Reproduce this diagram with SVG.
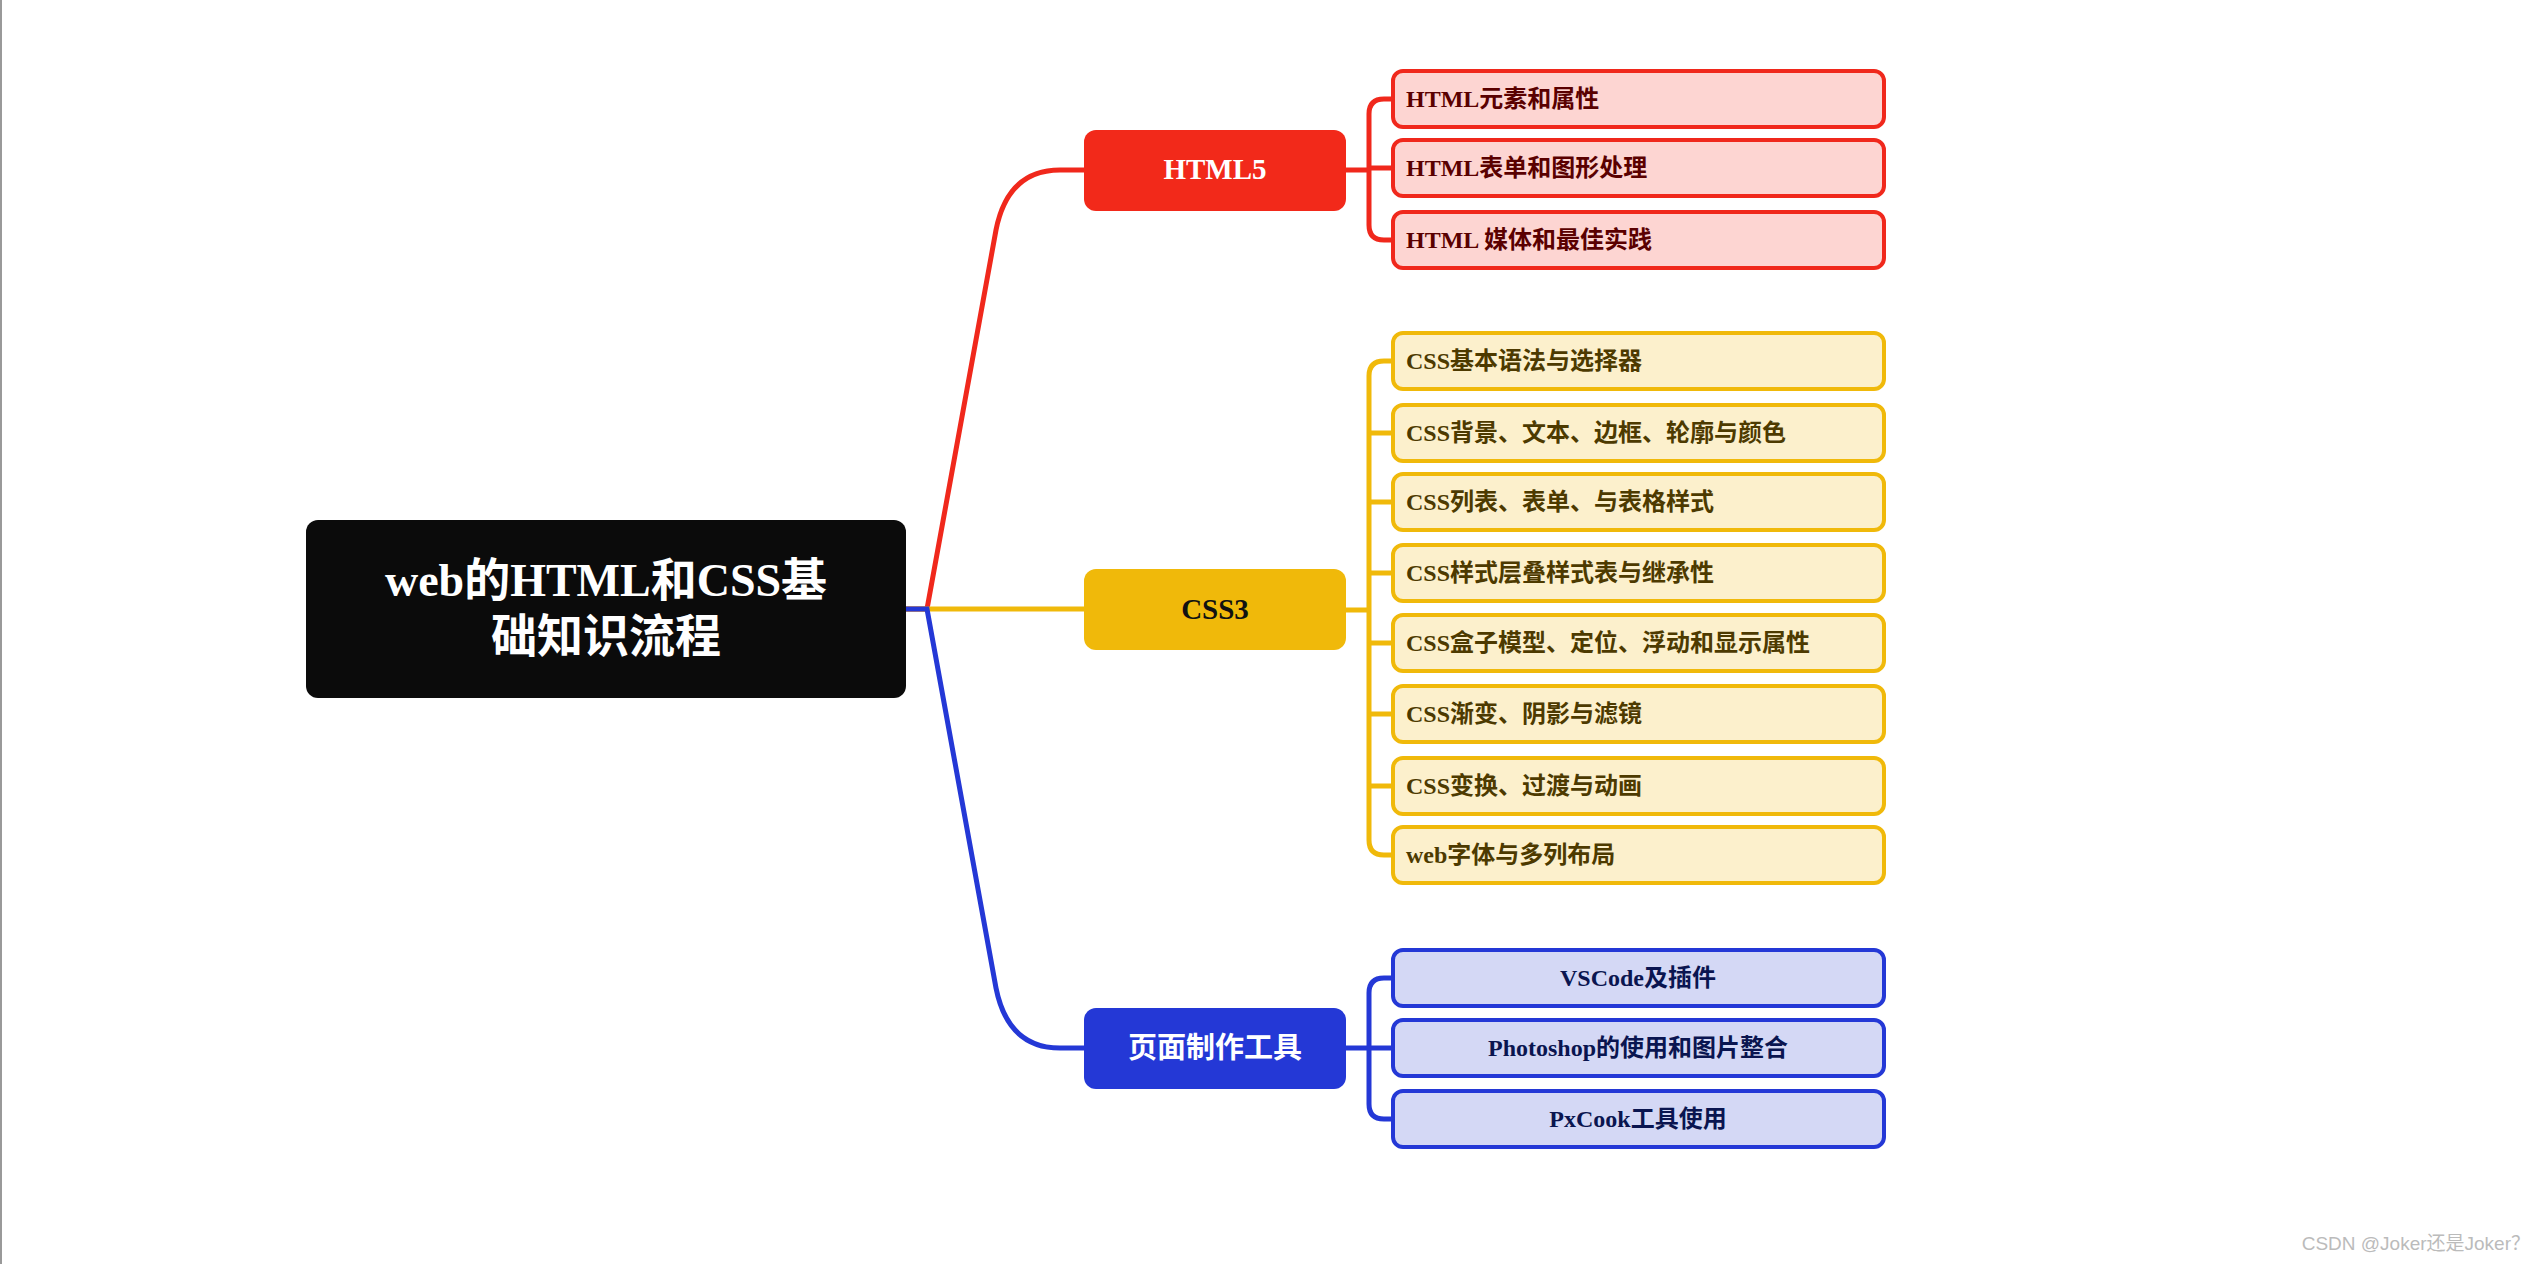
<svg xmlns="http://www.w3.org/2000/svg" width="2540" height="1264" viewBox="0 0 2540 1264">
<style>
text{font-family:"Liberation Serif","Noto Sans CJK SC",serif;font-weight:bold}
.c{fill:none;stroke-width:5;stroke-linecap:round}
.r{stroke:#F0281C}.y{stroke:#F0B90A}.b{stroke:#2438D6}
.rc{fill:#FDD5D2;stroke:#F0281C;stroke-width:4}
.yc{fill:#FCF0CC;stroke:#F0B90A;stroke-width:4}
.bc{fill:#D4D8F5;stroke:#2438D6;stroke-width:4}
.t{font-size:24px}
</style>
<rect width="2540" height="1264" fill="#fff"/>
<line x1="1" y1="0" x2="1" y2="1264" stroke="#999" stroke-width="2"/>
<g id="connectors">
<path class="c r" d="M906 609H927L996 230Q1008 170 1060 170H1084"/>
<path class="c y" d="M906 609H1084"/>
<path class="c b" d="M906 609H927L996 988Q1008 1048 1060 1048H1084"/>
<path class="c r" d="M1346 170H1369M1393 99H1384Q1369 99 1369 114V225Q1369 240 1384 240H1393M1369 168H1393"/>
<path class="c y" d="M1346 610H1369M1393 361H1384Q1369 361 1369 376V840Q1369 855 1384 855H1393M1369 433H1393M1369 502H1393M1369 573H1393M1369 643H1393M1369 714H1393M1369 786H1393"/>
<path class="c b" d="M1346 1048H1393M1393 978H1384Q1369 978 1369 993V1104Q1369 1119 1384 1119H1393"/>
</g>
<g id="root"><rect x="306" y="520" width="600" height="178" rx="12" fill="#0B0B0B"/>
<text x="606" y="596" font-size="46" fill="#fff" text-anchor="middle">web的HTML和CSS基</text>
<text x="606" y="652" font-size="46" fill="#fff" text-anchor="middle">础知识流程</text></g>
<g id="html5"><rect x="1084" y="130" width="262" height="81" rx="12" fill="#F2291A"/><text x="1215" y="179" font-size="29" fill="#fff" text-anchor="middle">HTML5</text></g>
<g id="css3"><rect x="1084" y="569" width="262" height="81" rx="12" fill="#F0B90A"/><text x="1215" y="619" font-size="29" fill="#111" text-anchor="middle">CSS3</text></g>
<g id="tools"><rect x="1084" y="1008" width="262" height="81" rx="12" fill="#2438D6"/><text x="1215" y="1058" font-size="29" fill="#fff" text-anchor="middle">页面制作工具</text></g>
<g fill="#5A0000">
<g id="h1"><rect class="rc" x="1393" y="71" width="491" height="56" rx="10"/><text class="t" x="1406" y="107">HTML元素和属性</text></g>
<g id="h2"><rect class="rc" x="1393" y="140" width="491" height="56" rx="10"/><text class="t" x="1406" y="176">HTML表单和图形处理</text></g>
<g id="h3"><rect class="rc" x="1393" y="212" width="491" height="56" rx="10"/><text class="t" x="1406" y="248">HTML 媒体和最佳实践</text></g>
</g>
<g fill="#4D3A00">
<g id="c1"><rect class="yc" x="1393" y="333" width="491" height="56" rx="10"/><text class="t" x="1406" y="369">CSS基本语法与选择器</text></g>
<g id="c2"><rect class="yc" x="1393" y="405" width="491" height="56" rx="10"/><text class="t" x="1406" y="441">CSS背景、文本、边框、轮廓与颜色</text></g>
<g id="c3"><rect class="yc" x="1393" y="474" width="491" height="56" rx="10"/><text class="t" x="1406" y="510">CSS列表、表单、与表格样式</text></g>
<g id="c4"><rect class="yc" x="1393" y="545" width="491" height="56" rx="10"/><text class="t" x="1406" y="581">CSS样式层叠样式表与继承性</text></g>
<g id="c5"><rect class="yc" x="1393" y="615" width="491" height="56" rx="10"/><text class="t" x="1406" y="651">CSS盒子模型、定位、浮动和显示属性</text></g>
<g id="c6"><rect class="yc" x="1393" y="686" width="491" height="56" rx="10"/><text class="t" x="1406" y="722">CSS渐变、阴影与滤镜</text></g>
<g id="c7"><rect class="yc" x="1393" y="758" width="491" height="56" rx="10"/><text class="t" x="1406" y="794">CSS变换、过渡与动画</text></g>
<g id="c8"><rect class="yc" x="1393" y="827" width="491" height="56" rx="10"/><text class="t" x="1406" y="863">web字体与多列布局</text></g>
</g>
<g fill="#0A1550" text-anchor="middle">
<g id="t1"><rect class="bc" x="1393" y="950" width="491" height="56" rx="10"/><text class="t" x="1638" y="986">VSCode及插件</text></g>
<g id="t2"><rect class="bc" x="1393" y="1020" width="491" height="56" rx="10"/><text class="t" x="1638" y="1056">Photoshop的使用和图片整合</text></g>
<g id="t3"><rect class="bc" x="1393" y="1091" width="491" height="56" rx="10"/><text class="t" x="1638" y="1127">PxCook工具使用</text></g>
</g>
<text x="2530" y="1250" font-size="19" fill="#bbb" text-anchor="end" style="font-family:'Liberation Sans','Noto Sans CJK SC',sans-serif;font-weight:normal">CSDN @Joker还是Joker？</text>
</svg>
